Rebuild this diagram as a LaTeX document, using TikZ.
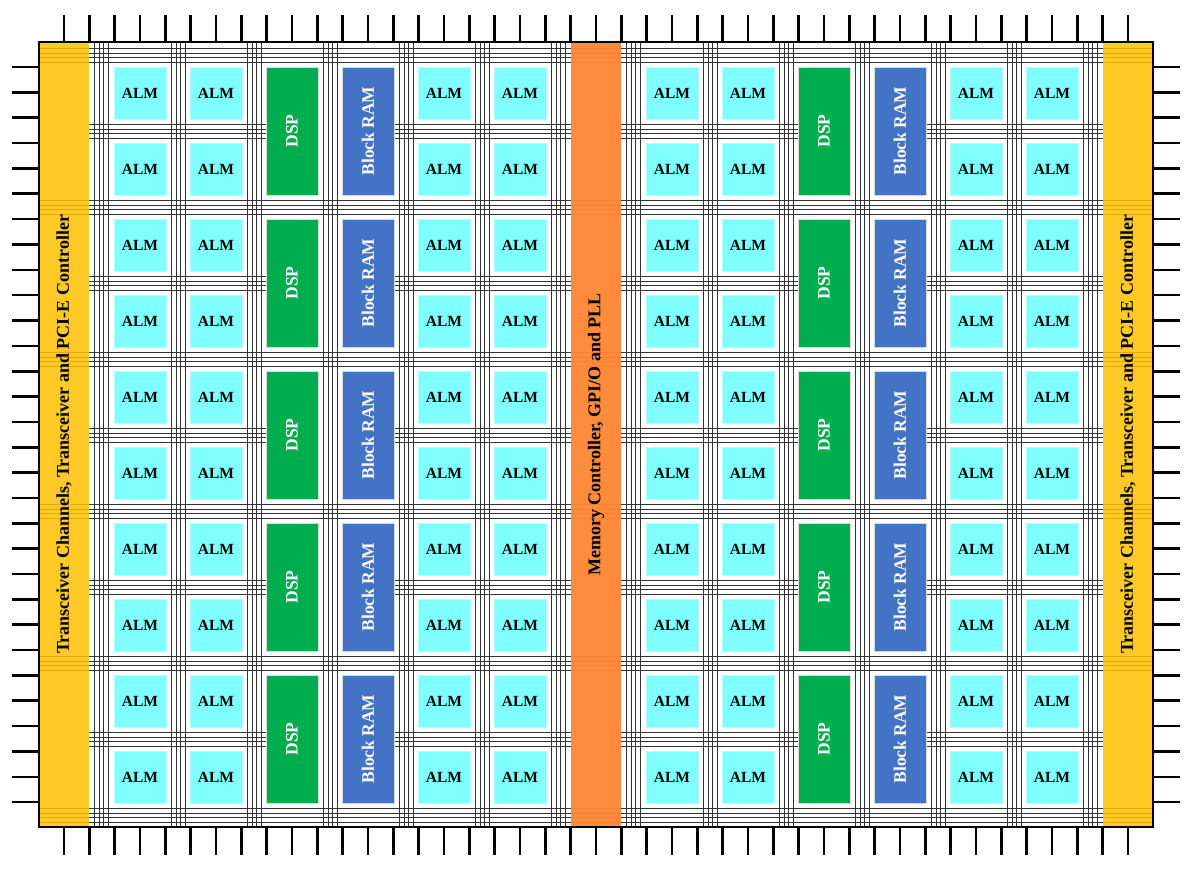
\documentclass[tikz,border=0pt]{standalone}
\usepackage{fontspec}
\setmainfont{Liberation Serif}
\definecolor{alm}{HTML}{80FFFF}
\definecolor{dsp}{HTML}{00AD4E}
\definecolor{bram}{HTML}{4472C4}
\definecolor{ctrl}{HTML}{FFC000}
\definecolor{mem}{HTML}{FF8533}
\tikzset{
 almbox/.style={fill=alm,draw=alm!60!white,line width=0.8pt,minimum width=52pt,minimum height=52pt,inner sep=0,font=\bfseries\fontsize{15.5}{17}\selectfont},
 tallbox/.style={draw=white!85!black,line width=0.8pt,minimum width=52pt,minimum height=128pt,inner sep=0,text=white,font=\bfseries\fontsize{17.5}{19}\selectfont},
 route/.style={black!80,line width=0.5pt},
 pin/.style={line width=2.6pt},
 longlbl/.style={rotate=90,font=\bfseries\fontsize{18}{20}\selectfont},
}
\begin{document}
\begin{tikzpicture}[x=1pt,y=-1pt]
\useasboundingbox (0,0) rectangle (1200,872);
% vertical routing lines
\foreach \g in {89,166,242,318,394,470,546,621,698,774,850,926,1002,1078}{
  \foreach \d in {5.5,10,14.5,19}{
    \draw[route] (\g+\d,42) -- (\g+\d,827);
  }
}
% horizontal routing lines between row pairs (full width)
\foreach \r in {0,2,4,6,8,10}{
  \pgfmathsetmacro{\yy}{67+76*\r}
  \foreach \d in {5,9.5,14,19}{
    \draw[route] (39,\yy-\d) -- (1153,\yy-\d);
  }
}
% within pair, only in ALM regions
\foreach \r in {1,3,5,7,9}{
  \pgfmathsetmacro{\yy}{67+76*\r}
  \foreach \d in {5,9.5,14,19}{
    \draw[route] (89,\yy-\d) -- (266,\yy-\d);
    \draw[route] (394,\yy-\d) -- (571,\yy-\d);
    \draw[route] (621,\yy-\d) -- (798,\yy-\d);
    \draw[route] (926,\yy-\d) -- (1103,\yy-\d);
  }
}
% side bars
\fill[ctrl,opacity=0.85] (39,42) rectangle (89,827);
\fill[ctrl,opacity=0.85] (1103,42) rectangle (1153,827);
\fill[mem,opacity=0.95] (571,42) rectangle (621,827);
\node[longlbl] (lt) at (64,434.5) {Transceiver Channels, Transceiver and PCI-E Controller};
\node[longlbl] (rt) at (1128,434.5) {Transceiver Channels, Transceiver and PCI-E Controller};
\node[longlbl] (mt) at (596,434.5) {Memory Controller, GPI/O and PLL};
% blocks
\foreach \h/\xo in {0/114,1/646}{
  \foreach \r in {0,...,9}{
    \pgfmathsetmacro{\yc}{93+76*\r}
    \foreach \c in {0,1,4,5}{
      \pgfmathsetmacro{\xc}{\xo+26+76*\c}
      \node[almbox] (a-\h-\r-\c) at (\xc,\yc) {ALM};
    }
  }
  \foreach \p in {0,...,4}{
    \pgfmathsetmacro{\yc}{131+152*\p}
    \node[tallbox,fill=dsp] (d-\h-\p) at (\xo+26+152,\yc) {\rotatebox{90}{DSP}};
    \node[tallbox,fill=bram] (b-\h-\p) at (\xo+26+228,\yc) {\rotatebox{90}{Block RAM}};
  }
}
% frame
\draw[line width=2.6pt] (39,42) rectangle (1153,827);
% pins
\foreach \i in {0,...,42}{
  \draw[pin] (64+25.33*\i,15) -- (64+25.33*\i,42);
  \draw[pin] (64+25.33*\i,827) -- (64+25.33*\i,855);
}
\foreach \i in {0,...,29}{
  \draw[pin] (12,67+25.35*\i) -- (39,67+25.35*\i);
  \draw[pin] (1153,67+25.35*\i) -- (1180,67+25.35*\i);
}
\end{tikzpicture}
\end{document}
